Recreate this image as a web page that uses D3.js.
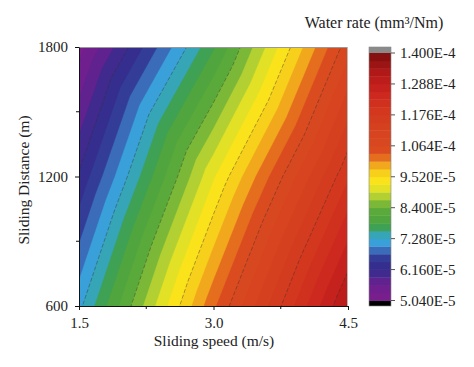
<!DOCTYPE html>
<html><head><meta charset="utf-8">
<script src="https://cdn.jsdelivr.net/npm/d3@7"></script>
<style>
body{margin:0;background:#fff}
text{font-family:"Liberation Serif","Times New Roman",serif;fill:#222}
</style>
</head><body>
<svg id="c" width="474" height="367"></svg>
<script>
// ---- data ----
const speeds = [1.5, 3.0, 4.5];            // m/s
const distances = [1800, 1200, 600];       // m (top to bottom)
const rate1800 = [5.2e-5, 7.8e-5, 1.08e-4];
const rate1200 = [6.2e-5, 9.2e-5, 1.20e-4];
const rate600  = [7.2e-5, 1.03e-4, 1.32e-4];
const xTicks = [1.5, 3.0, 4.5];
const xMinor = [2.25, 3.75];
const yTicks = [600, 1200, 1800];
const yMinor = [900, 1500];
const cbTicks = [5.04e-5, 6.16e-5, 7.28e-5, 8.40e-5, 9.52e-5, 1.064e-4, 1.176e-4, 1.288e-4, 1.400e-4];
const cbLabels = ["5.040E-5","6.160E-5","7.280E-5","8.400E-5","9.520E-5","1.064E-4","1.176E-4","1.288E-4","1.400E-4"];
const majorLevels = [6.16e-5, 7.28e-5, 8.40e-5, 9.52e-5, 1.064e-4, 1.176e-4, 1.288e-4];
// palette stops (value, colour)
const stopValues = [5.04e-5,5.5e-5,5.85e-5,6.05e-5,6.5e-5,6.8e-5,7.1e-5,7.35e-5,7.55e-5,7.8e-5,8.4e-5,8.75e-5,9.0e-5,9.3e-5,9.7e-5,1.0e-4,1.02e-4,1.04e-4,1.12e-4,1.20e-4,1.26e-4,1.32e-4,1.40e-4];
const stopColors = ["#7d1d8c","#6e1f8e","#5a2390","#3c2b8d","#30308f","#3a5fb2","#3a9fd8","#3aa8dc","#2f9f70","#4aa23f","#5fac3a","#a6cb36","#d6dd2b","#fbe81a","#f7cd1c","#ef9f1c","#e5701e","#da4d20","#d6421f","#d2361f","#cb251e","#b71a18","#7d0f10"];
const vMin = 5.04e-5, vMax = 1.4e-4, nBands = 32;

// ---- layout ----
const L = 79, R = 348, T = 47, B = 306;
const svg = d3.select("#c");
const xs = d3.scaleLinear().domain([1.5, 4.5]).range([L, R]);
const ys = d3.scaleLinear().domain([600, 1800]).range([B, T]);
const col = d3.scaleLinear().domain(stopValues).range(stopColors).interpolate(d3.interpolateRgb).clamp(true);

const grid = [rate1800, rate1200, rate600];
function rateAt(s, d) {
  let c = 0; while (c < speeds.length - 2 && s > speeds[c + 1]) c++;
  let r = 0; while (r < distances.length - 2 && d < distances[r + 1]) r++;
  const u = (s - speeds[c]) / (speeds[c + 1] - speeds[c]);
  const v = (distances[r] - d) / (distances[r] - distances[r + 1]);
  const TL = grid[r][c], TR = grid[r][c + 1], BL = grid[r + 1][c], BR = grid[r + 1][c + 1];
  return u >= v ? TL + u * (TR - TL) + v * (BR - TR) : TL + v * (BL - TL) + u * (BR - BL);
}
const nx = 301, ny = 241;
const vals = new Array(nx * ny);
for (let j = 0; j < ny; j++) for (let i = 0; i < nx; i++) {
  const s = 1.5 + i * 3 / (nx - 1), d = 1800 - j * 1200 / (ny - 1);
  vals[j * nx + i] = rateAt(s, d) * 1e5;
}
const proj = d3.geoTransform({point(x, y) {
  this.stream.point(xs(1.5 + (x - 0.5) * 3 / (nx - 1)), ys(1800 - (y - 0.5) * 1200 / (ny - 1)));
}});
const path = d3.geoPath(proj);

svg.append("clipPath").attr("id", "pc").append("rect").attr("x", L).attr("y", T).attr("width", R - L).attr("height", B - T);
const gp = svg.append("g").attr("clip-path", "url(#pc)");
gp.append("rect").attr("x", L).attr("y", T).attr("width", R - L).attr("height", B - T).attr("fill", "#000");
const step = (vMax - vMin) / nBands;
const thr = d3.range(nBands + 1).map(k => (vMin + k * step) * 1e5);
const conts = d3.contours().size([nx, ny]).thresholds(thr)(vals);
gp.selectAll("path.band").data(conts).join("path").attr("class", "band")
  .attr("d", path)
  .attr("fill", (c, k) => k >= nBands ? "#888" : col(c.value / 1e5 + step / 2))
  .attr("stroke", (c, k) => k >= nBands ? "#888" : col(c.value / 1e5 + step / 2))
  .attr("stroke-width", 0.3);
const lines = d3.contours().size([nx, ny]).thresholds(majorLevels.map(v => v * 1e5))(vals);
gp.selectAll("path.ln").data(lines).join("path").attr("class", "ln")
  .attr("d", path).attr("fill", "none")
  .attr("stroke", "#333").attr("stroke-opacity", 0.55)
  .attr("stroke-width", 0.8).attr("stroke-dasharray", "4,2");

// frame
svg.append("line").attr("x1", L).attr("x2", R).attr("y1", T + 0.5).attr("y2", T + 0.5).attr("stroke", "#999");
svg.append("line").attr("x1", R - 0.5).attr("x2", R - 0.5).attr("y1", T).attr("y2", B).attr("stroke", "#bbb");

// axes
const fs = "15px";
const xa = svg.append("g").attr("transform", `translate(0,${B})`)
  .call(d3.axisBottom(xs).tickValues(xTicks).tickFormat(d3.format(".1f")).tickSize(4).tickPadding(7).tickSizeOuter(0));
xa.selectAll("text").style("font-size", fs).attr("fill", "#222");
xa.selectAll("line,path").attr("stroke", "#111");
xa.selectAll("line.minor").data(xMinor).join("line").attr("class", "minor")
  .attr("x1", d => xs(d)).attr("x2", d => xs(d)).attr("y1", 0).attr("y2", 3).attr("stroke", "#111");
const ya = svg.append("g").attr("transform", `translate(${L},0)`)
  .call(d3.axisLeft(ys).tickValues(yTicks).tickFormat(d3.format("d")).tickSize(4).tickPadding(7).tickSizeOuter(0));
ya.selectAll("text").style("font-size", fs).attr("fill", "#222");
ya.selectAll("line,path").attr("stroke", "#111");
ya.selectAll("line.minor").data(yMinor).join("line").attr("class", "minor")
  .attr("y1", d => ys(d)).attr("y2", d => ys(d)).attr("x1", 0).attr("x2", -3).attr("stroke", "#111");

svg.append("text").attr("x", 214).attr("y", 346).attr("text-anchor", "middle").style("font-size", "15.5px").text("Sliding speed (m/s)");
svg.append("text").attr("transform", "translate(29,180) rotate(-90)").attr("text-anchor", "middle").style("font-size", "15.5px").text("Sliding Distance (m)");

// colour bar
const cx = 369, cw = 22;
const cs = d3.scaleLinear().domain([vMin, vMax]).range([300.5, 53]);
const cb = svg.append("g");
cb.append("rect").attr("x", cx).attr("y", 47).attr("width", cw).attr("height", cs(vMax) - 47).attr("fill", "#8a8a8a");
cb.append("rect").attr("x", cx).attr("y", cs(vMin)).attr("width", cw).attr("height", 306 - cs(vMin)).attr("fill", "#000");
cb.selectAll("rect.b").data(d3.range(nBands)).join("rect").attr("class", "b")
  .attr("x", cx).attr("width", cw)
  .attr("y", k => cs(vMin + (k + 1) * step))
  .attr("height", k => cs(vMin + k * step) - cs(vMin + (k + 1) * step) + 0.4)
  .attr("fill", k => col(vMin + (k + 0.5) * step));
cb.append("rect").attr("x", cx).attr("y", 47).attr("width", cw).attr("height", 259).attr("fill", "none").attr("stroke", "#888").attr("stroke-width", 0.6);
cb.selectAll("line.t").data(cbTicks).join("line").attr("class", "t")
  .attr("x1", cx + cw).attr("x2", cx + cw + 4).attr("y1", d => cs(d)).attr("y2", d => cs(d)).attr("stroke", "#555");
cb.selectAll("text.t").data(cbTicks).join("text").attr("class", "t")
  .attr("x", 400).attr("y", d => cs(d)).attr("dy", "0.34em").style("font-size", fs)
  .text((d, i) => cbLabels[i]);
svg.append("text").attr("x", 374).attr("y", 28).attr("text-anchor", "middle").style("font-size", "16px").text("Water rate (mm³/Nm)");
</script>
</body></html>
